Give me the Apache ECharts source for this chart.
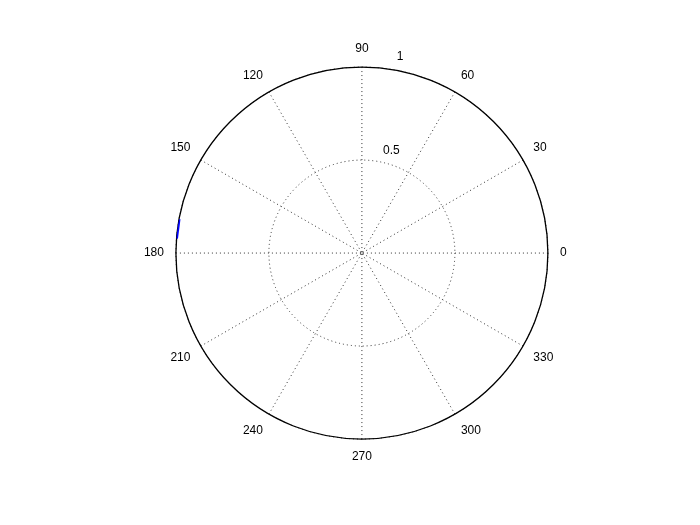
<!DOCTYPE html>
<html>
<head>
<meta charset="utf-8">
<script src="https://cdn.jsdelivr.net/npm/echarts@6/dist/echarts.min.js"></script>
<style>
html, body { margin: 0; padding: 0; background: #fff; }
#main { width: 700px; height: 525px; }
</style>
</head>
<body>
<div id="main"></div>
<script>
// blue trace near 180 deg: [r, theta]
var traceR = [1, 1];
var traceTheta = [169.5, 175.5];
// radius tick labels, drawn near 75-80 deg like matlab
var rTicks = [0.5, 1];
var rTickAngle = [74, 79];

var myChart = echarts.init(document.getElementById('main'));

var traceData = [];
for (var i = 0; i < traceR.length; i++) {
    traceData.push([traceR[i], traceTheta[i]]);
}
var rLabelData = [];
for (var j = 0; j < rTicks.length; j++) {
    rLabelData.push([rTicks[j] + 0.075, rTickAngle[j], String(rTicks[j])]);
}

var option = {
    animation: false,
    backgroundColor: '#fff',
    polar: {
        center: ['51.7%', '48.2%'],
        radius: 186
    },
    angleAxis: {
        type: 'value',
        min: 0,
        max: 360,
        interval: 30,
        startAngle: 0,
        clockwise: false,
        axisLine: { lineStyle: { color: '#000', width: 1.3 } },
        axisTick: { show: false },
        axisLabel: {
            margin: 12,
            color: '#000',
            fontFamily: 'Liberation Sans, Arial, sans-serif',
            fontSize: 12,
            formatter: function (v) { return v === 360 ? '' : String(v); }
        },
        splitLine: {
            show: true,
            lineStyle: { color: '#333', type: [1, 3], width: 1 }
        }
    },
    radiusAxis: {
        min: 0,
        max: 1,
        interval: 0.5,
        axisLine: { show: false },
        axisTick: { show: false },
        axisLabel: { show: false },
        splitLine: {
            show: true,
            lineStyle: { color: '#333', type: [1, 3], width: 1 }
        }
    },
    series: [
        {
            type: 'line',
            coordinateSystem: 'polar',
            data: traceData,
            symbol: 'none',
            lineStyle: { color: '#0000ff', width: 3 }
        },
        {
            type: 'scatter',
            coordinateSystem: 'polar',
            data: rLabelData,
            symbolSize: 0,
            clip: false,
            silent: true,
            z: 10,
            label: {
                show: true,
                position: 'inside',
                color: '#000',
                opacity: 1,
                fontFamily: 'Liberation Sans, Arial, sans-serif',
                fontSize: 12,
                formatter: function (p) { return p.value[2]; }
            }
        }
    ]
};
myChart.setOption(option);
</script>
</body>
</html>
